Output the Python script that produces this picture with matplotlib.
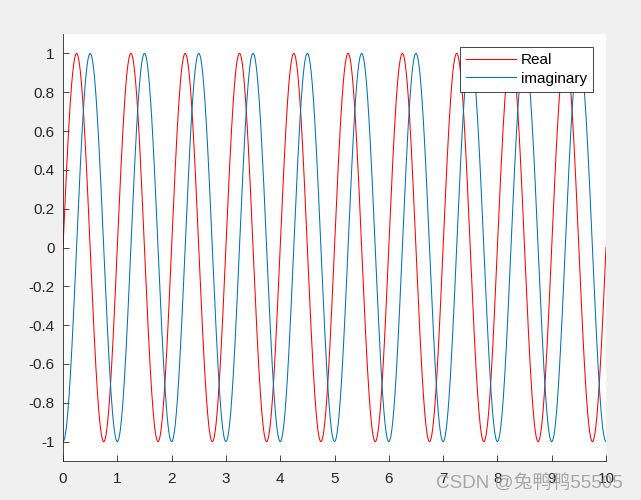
import numpy as np
from matplotlib import pyplot as plt

plt.rcParams['font.family'] = ['Liberation Sans', 'Noto Sans CJK SC', 'DejaVu Sans']

# signal parameters: x = exp(j*(2*pi*f*t + phase))
t_start, t_stop, n_samples = 0, 10, 2001
freq = 1.0
phase = -np.pi / 2
labels = ['Real', 'imaginary']
colors = ['#ff0000', '#0072bd']
xticks = list(range(0, 11))
yticks = [-1, -0.8, -0.6, -0.4, -0.2, 0, 0.2, 0.4, 0.6, 0.8, 1]
ytick_labels = ['-1', '-0.8', '-0.6', '-0.4', '-0.2', '0', '0.2', '0.4', '0.6', '0.8', '1']

t = np.linspace(t_start, t_stop, n_samples)
sig = np.exp(1j * (2 * np.pi * freq * t + phase))

fig = plt.figure(figsize=(6.41, 5.0), dpi=100, facecolor='#f0f0f0')
ax = fig.add_axes([63/641, 1 - 461/500, 543/641, 427/500])
ax.plot(t, sig.real, color=colors[0], lw=0.75, label=labels[0])
ax.plot(t, sig.imag, color=colors[1], lw=0.75, label=labels[1])

ax.set_xlim(0, 10)
ax.set_ylim(-1.1, 1.1)
ax.set_xticks(xticks)
ax.set_yticks(yticks)
ax.set_yticklabels(ytick_labels)
ax.tick_params(direction='in', labelsize=11, colors='#262626', length=4, width=0.6)
ax.tick_params(axis='y', pad=6)
ax.tick_params(axis='x', pad=8)
for s in ['top', 'right']:
    ax.spines[s].set_visible(False)
for s in ['left', 'bottom']:
    ax.spines[s].set_linewidth(0.6)
    ax.spines[s].set_color('#262626')

leg = ax.legend(loc='upper right', bbox_to_anchor=(0.976, 0.970), fontsize=11,
                fancybox=False, edgecolor='#262626', framealpha=1,
                handlelength=3.3, borderpad=0.4, labelspacing=0.3, handletextpad=0.3,
                borderaxespad=0)
leg.get_frame().set_linewidth(0.6)

# watermark in the lower right corner
fig.text(436/641, 1 - 489/500, 'CSDN @兔鸭鸭55505', fontsize=13.6, color='#9a9a9a', alpha=0.85)

fig.savefig('out.png', dpi=100, facecolor=fig.get_facecolor())
